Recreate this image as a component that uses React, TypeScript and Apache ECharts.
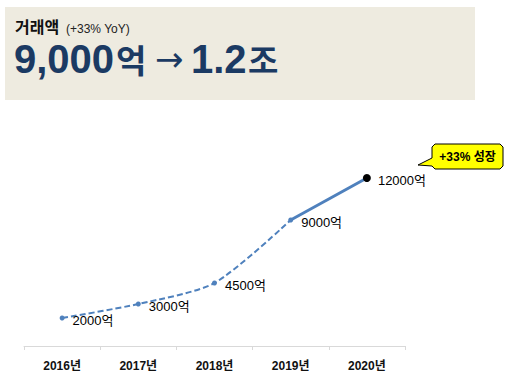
import React, { useEffect, useRef } from "react";
import * as echarts from "echarts";

const categories = ["2016년", "2017년", "2018년", "2019년", "2020년"];
const dashedValues: (number | string)[] = [2000, 3000, 4500, 9000, "-"];
const solidValues: (number | string)[] = ["-", "-", "-", 9000, 12000];
const labelValues = [2000, 3000, 4500, 9000, 12000];

const FONT = "'Liberation Sans', 'Noto Sans CJK KR', sans-serif";
const KFONT = "'Noto Sans CJK KR', sans-serif";
const NFONT = "'Liberation Sans', sans-serif";
const BLUE = "#4F81BD";
const NAVY = "#1B3A63";

export default function App() {
  const ref = useRef<HTMLDivElement>(null);
  useEffect(() => {
    if (!ref.current) return;
    const chart = echarts.init(ref.current, undefined, { renderer: "svg" });
    const big = (text: string, x: number, font: string) => ({
      type: "text",
      x,
      y: 59,
      style: { text, fill: NAVY, font, verticalAlign: "middle" },
    });
    chart.setOption({
      animation: false,
      backgroundColor: "#ffffff",
      grid: { left: 24, right: 104, top: 150, bottom: 39 },
      xAxis: {
        type: "category",
        data: categories,
        boundaryGap: true,
        axisLine: { show: true, lineStyle: { color: "#D9D9D9", width: 1 } },
        axisTick: { show: true, length: 4, lineStyle: { color: "#D9D9D9" } },
        axisLabel: {
          color: "#111",
          fontSize: 12,
          fontWeight: "bold",
          fontFamily: FONT,
          margin: 14,
        },
      },
      yAxis: {
        type: "value",
        min: 0,
        max: 14000,
        show: false,
        splitLine: { show: false },
      },
      series: [
        {
          type: "line",
          data: dashedValues,
          smooth: 0.25,
          symbol: "circle",
          symbolSize: 5,
          itemStyle: { color: BLUE },
          lineStyle: { color: BLUE, width: 2, type: [6, 3] },
          label: {
            show: true,
            position: "right",
            distance: 8,
            offset: [0, 2],
            color: "#000",
            fontSize: 13,
            fontFamily: FONT,
            formatter: (p: any) => `${labelValues[p.dataIndex]}억`,
          },
        },
        {
          type: "line",
          data: solidValues,
          symbol: (v: any, p: any) => (p.dataIndex === 4 ? "circle" : "none"),
          symbolSize: 8,
          itemStyle: { color: "#000" },
          lineStyle: { color: BLUE, width: 3 },
          label: {
            show: true,
            position: "right",
            distance: 7,
            offset: [0, 2],
            color: "#000",
            fontSize: 13,
            fontFamily: FONT,
            formatter: (p: any) => (p.dataIndex === 4 ? `${labelValues[p.dataIndex]}억` : ""),
          },
        },
      ],
      graphic: [
        {
          type: "rect",
          shape: { x: 5, y: 7, width: 470, height: 93 },
          style: { fill: "#EEEBE0" },
          silent: true,
        },
        {
          type: "text",
          x: 15,
          y: 27,
          style: {
            text: "거래액",
            fill: "#111",
            font: `bold 16px ${FONT}`,
            verticalAlign: "middle",
          },
        },
        {
          type: "text",
          x: 66,
          y: 29,
          style: {
            text: "(+33% YoY)",
            fill: "#222",
            font: `12px ${FONT}`,
            verticalAlign: "middle",
          },
        },
        big("9,000", 14, `bold 40px ${NFONT}`),
        big("억", 116, `bold 33px ${KFONT}`),
        big("→", 155, `34px 'DejaVu Sans', sans-serif`),
        big("1.2", 191, `bold 40px ${NFONT}`),
        big("조", 248, `bold 33px ${KFONT}`),
        {
          type: "polygon",
          shape: {
            points: [
              [435, 144],
              [500, 144],
              [503, 147],
              [503, 166],
              [500, 169],
              [435, 169],
              [432, 166],
              [418, 165],
              [432, 158],
              [432, 147],
            ],
          },
          style: { fill: "#FFFF00", stroke: "#000", lineWidth: 1 },
        },
        {
          type: "text",
          x: 467.5,
          y: 157,
          style: {
            text: "+33% 성장",
            fill: "#000",
            font: `bold 12px ${FONT}`,
            align: "center",
            verticalAlign: "middle",
          },
        },
      ],
    });
    return () => chart.dispose();
  }, []);
  return (
    <div
      ref={ref}
      style={{ position: "fixed", left: 0, top: 0, width: 509, height: 385 }}
    />
  );
}
